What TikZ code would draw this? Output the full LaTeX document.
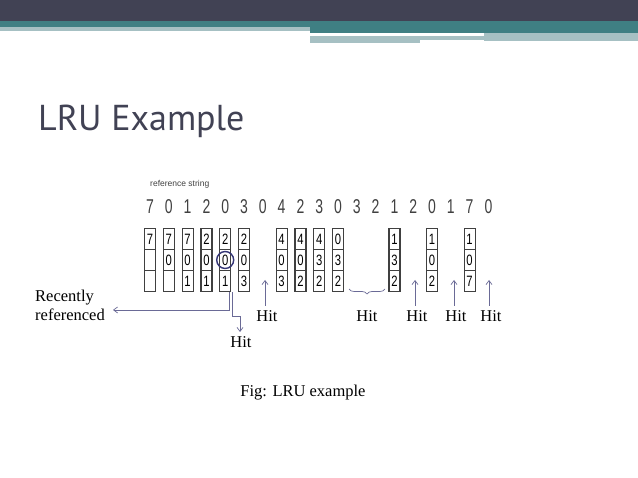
\documentclass[tikz,border=0pt]{standalone}
\usepackage{fontspec}
\setmainfont{Liberation Serif}
\newfontfamily\titlefont{PT Sans}
\newfontfamily\digfont{Liberation Sans}
\usetikzlibrary{decorations.pathreplacing,arrows.meta}
\definecolor{dark}{HTML}{414254}
\definecolor{teal}{HTML}{3F7F83}
\definecolor{lite}{HTML}{A6C0C3}
\definecolor{arr}{HTML}{6A6A96}
\definecolor{boxc}{HTML}{404040}
\tikzset{cellbox/.style={draw=boxc,line width=1.2pt,minimum width=11pt,minimum height=21pt,inner sep=0pt,font=\fontsize{15}{15}\digfont},
 hitlbl/.style={font=\fontsize{16.5}{16.5}\selectfont,anchor=base},
 hitarr/.style={draw=arr,line width=0.7pt,-{Straight Barb[length=4pt,width=6pt]}},
 digit/.style={font=\fontsize{20}{20}\digfont,text=boxc,inner sep=0pt}}
\begin{document}
\begin{tikzpicture}[x=1pt,y=-1pt]
\useasboundingbox (0,0) rectangle (638,478);
\fill[dark] (0,0) rectangle (638,21);
\fill[teal] (0,21) rectangle (638,27);
\fill[lite] (0,27) rectangle (310,31);
\fill[teal] (310,27) rectangle (638,33);
\fill[lite] (484,33) rectangle (638,41);
\fill[lite] (310,36) rectangle (420,43);
\fill[lite] (420,36) rectangle (484,40);
\node[anchor=base west,inner sep=0pt,font=\fontsize{36}{36}\titlefont,text=dark] (title) at (38,131) {LRU Example};
\node[anchor=base west,inner sep=0pt,font=\fontsize{8.5}{9}\digfont,text=boxc] (rs) at (150,187) {reference string};
\foreach \d [count=\i from 0] in {7,0,1,2,0,3,0,4,2,3,0,3,2,1,2,0,1,7,0}{
  \pgfmathsetmacro\xx{150+\i*18.8}
  \node[digit,xscale=0.7] (d\i) at (\xx,207) {\d};
}
\foreach \c/\a/\b/\e in {0/7//,1/7/0/,2/7/0/1,3/2/0/1,4/2/0/1,5/2/0/3,7/4/0/3,8/4/0/2,9/4/3/2,10/0/3/2,13/1/3/2,15/1/0/2,17/1/0/7}{
  \pgfmathsetmacro\xx{150+\c*18.8}
  \node[cellbox] (c\c a) at (\xx,239) {\scalebox{0.75}[1]{\a}};
  \node[cellbox] (c\c b) at (\xx,260) {\scalebox{0.75}[1]{\b}};
  \node[cellbox] (c\c c) at (\xx,281) {\scalebox{0.75}[1]{\e}};
}
\draw[draw=dark!80!blue,line width=1.4pt] (c4b) circle (8.5pt);
\node[hitlbl] (h6) at (267,322) {Hit};
\node[hitlbl] (h11) at (367,322) {Hit};
\node[hitlbl] (h14) at (417,322) {Hit};
\node[hitlbl] (h16) at (456,322) {Hit};
\node[hitlbl] (h18) at (491,322) {Hit};
\node[hitlbl] (h4) at (241,348) {Hit};
\foreach \i/\x in {6/265,14/415,16/454,18/489}{
  \coordinate (t\i) at (\x,280);
  \draw[hitarr] (\x,306) -- (t\i);
}
\draw[draw=arr,line width=0.7pt,decorate,decoration={brace,mirror,amplitude=5pt}] (349,289) -- (385,289);
\node[anchor=base west,inner sep=0pt,font=\fontsize{16.5}{16.5}\selectfont] (rr1) at (35,302) {Recently};
\node[anchor=base west,inner sep=0pt,font=\fontsize{16.5}{16.5}\selectfont] (rr2) at (35,321) {referenced};
\coordinate (rrt) at (113,310);
\draw[hitarr] (c4c.south -| 229,0) |- (rrt);
\coordinate (hb) at (240,332);
\draw[hitarr] (c4c.south -| 232,0) |- (240,316) -- (hb);
\node[anchor=base,font=\fontsize{16.5}{16.5}\selectfont] (fig) at (303,397) {Fig: LRU example};
\end{tikzpicture}
\end{document}
